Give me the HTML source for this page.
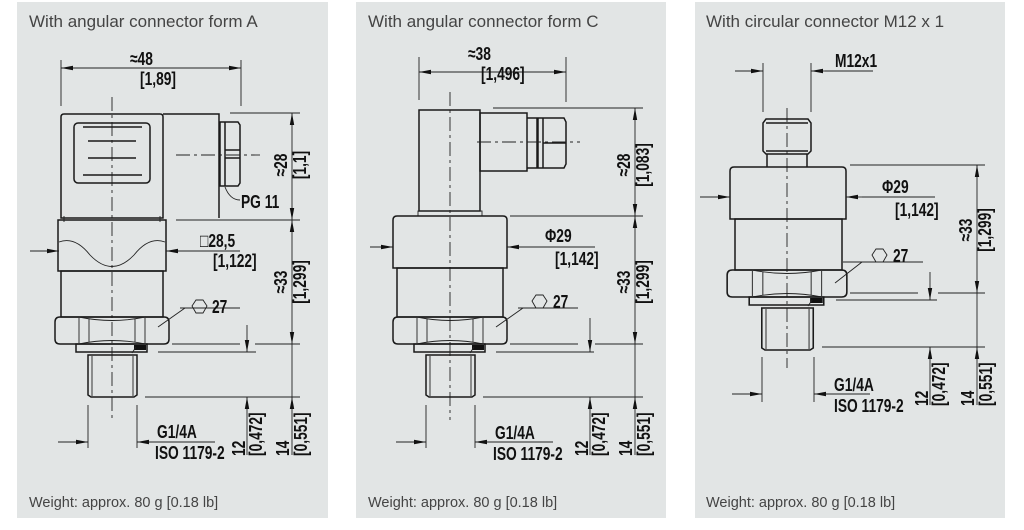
<!DOCTYPE html>
<html><head><meta charset="utf-8"><style>
body{margin:0;background:#fff;width:1024px;height:530px;overflow:hidden}
svg{display:block}
.t{font-family:"Liberation Sans",sans-serif;font-size:17px;fill:#444}
.w{font-family:"Liberation Sans",sans-serif;font-size:14.5px;fill:#444}
.d{font-family:"Liberation Sans",sans-serif;font-weight:bold;font-size:14.5px;fill:#111}
.l{stroke:#1a1a1a;stroke-width:1.5;fill:none}
.s{stroke:#222;stroke-width:0.9;fill:none}
.c{stroke:#222;stroke-width:0.9;fill:none;stroke-dasharray:14 4 3 4}
.a{stroke:#222;stroke-width:0.9;fill:none;marker-end:url(#ar)}
</style></head><body>
<svg width="1024" height="530" viewBox="0 0 1024 530">
<defs>
<marker id="ar" markerUnits="userSpaceOnUse" markerWidth="12" markerHeight="6" refX="12" refY="3" orient="auto"><path d="M0,0.8 L12,3 L0,5.2z" fill="#111"/></marker>
<g id="low">
<path class="l" d="M-52,0 L52,0 Q57,0 57,5 L57,22 Q57,27 52,27 L-52,27 Q-57,27 -57,22 L-57,5 Q-57,0 -52,0z"/>
<path class="s" d="M-33,0 Q0,7 33,0 M-33,27 Q0,20 33,27 M-33,1 V26 M-23,2 V25 M23,2 V25 M33,1 V26"/>
<rect class="l" x="-36" y="27" width="71" height="8"/>
<rect x="22" y="28" width="12" height="5" fill="#111"/>
<path class="s" d="M20,36 L24,30"/>
<path class="l" d="M-24,38 H25 V78 L22,80 H-21 L-24,78 Z"/>
<path class="s" d="M-20,39 V79 M21,39 V79"/>
</g>
</defs>
<rect x="17" y="2" width="311" height="516" fill="#e2e5e5"/>
<rect x="356" y="2" width="310" height="516" fill="#e2e5e5"/>
<rect x="695" y="2" width="310" height="516" fill="#e2e5e5"/>
<text class="t" x="29" y="27">With angular connector form A</text>
<text class="t" x="368" y="27">With angular connector form C</text>
<text class="t" x="706" y="27">With circular connector M12 x 1</text>
<text class="w" x="29" y="507">Weight: approx. 80 g [0.18 lb]</text>
<text class="w" x="368" y="507">Weight: approx. 80 g [0.18 lb]</text>
<text class="w" x="706" y="507">Weight: approx. 80 g [0.18 lb]</text>

<!-- PANEL 1 -->
<g>
<path class="s" d="M61,60 V106 M241,60 V106"/>
<path class="a" d="M150,68 H61"/><path class="a" d="M150,68 H241"/>
<text class="d" transform="translate(130,65) scale(.95,1.3)">≈48</text><text class="d" transform="translate(140,85) scale(.95,1.3)">[1,89]</text>
<path class="c" d="M112,97 V420"/>
<path class="l" d="M64,114 H160 Q163,114 163,117 V218 H61 V117 Q61,114 64,114z"/>
<rect class="l" x="74" y="123" width="76" height="60" rx="4"/>
<path class="l" d="M83,127 H142 M88,141 H136 M88,158 H136 M83,175 H142" stroke-width="2.4"/>
<path class="l" d="M163,114 H219 V218"/>
<path class="l" d="M220,122 H238 L240,125 V183 L238,186 H220 Z M225,122 V186 M225,150 H240 M225,158 H240"/>
<path class="c" d="M176,155 H260"/>
<path class="s" d="M225,187 Q230,200 240,200"/>
<text class="d" transform="translate(241,208) scale(.95,1.3)">PG 11</text>
<path class="s" d="M230,113 H300 M176,220 H300 M172,344 H240 M255,344 H300 M158,352 H256 M145,397 H300 M180,308 H240"/>
<path class="a" d="M292,165 V113"/><path class="a" d="M292,165 V220"/>
<path class="a" d="M292,280 V220"/><path class="a" d="M292,280 V344"/>
<text class="d" transform="translate(287,165) rotate(-90) scale(.95,1.3)" text-anchor="middle">≈28</text>
<text class="d" transform="translate(306,165) rotate(-90) scale(.95,1.3)" text-anchor="middle">[1,1]</text>
<text class="d" transform="translate(287,282) rotate(-90) scale(.95,1.3)" text-anchor="middle">≈33</text>
<text class="d" transform="translate(306,282) rotate(-90) scale(.95,1.3)" text-anchor="middle">[1,299]</text>
<rect class="l" x="58" y="220" width="108" height="51"/>
<path class="s" d="M59,242 Q75,236 90,255 Q112,278 134,255 Q149,236 165,242"/>
<rect class="l" x="61" y="271" width="102" height="46"/>
<path class="s" d="M64,216 V222 M160,216 V222"/>
<path class="a" d="M30,251 H59"/><path class="s" d="M200,251 H240"/><path class="a" d="M200,251 H166"/>
<text class="d" transform="translate(200,247) scale(.95,1.3)">□28,5</text><text class="d" transform="translate(213,267) scale(.95,1.3)">[1,122]</text>
<use href="#low" x="112" y="317"/>
<polygon class="s" points="192,306 196,300 203,300 207,306 203,313 196,313"/>
<text class="d" transform="translate(212,313) scale(.95,1.3)">27</text>
<path class="s" d="M158,327 L185,308"/>
<path class="s" d="M247,325 V335"/><path class="a" d="M247,335 V352"/>
<path class="a" d="M247,455 V397"/><path class="a" d="M292,455 V397"/><path class="s" d="M292,344 V397"/>
<text class="d" transform="translate(245,456) rotate(-90) scale(.95,1.3)">12</text>
<text class="d" transform="translate(262,456) rotate(-90) scale(.95,1.3)">[0,472]</text>
<text class="d" transform="translate(289,456) rotate(-90) scale(.95,1.3)">14</text>
<text class="d" transform="translate(307,456) rotate(-90) scale(.95,1.3)">[0,551]</text>
<path class="s" d="M88,405 V448 M137,405 V448"/>
<path class="a" d="M58,442 H88"/><path class="a" d="M155,442 H137"/><path class="s" d="M155,442 H215"/>
<text class="d" transform="translate(157,438) scale(.95,1.3)">G1/4A</text><text class="d" transform="translate(155,459) scale(.95,1.3)">ISO 1179-2</text>
</g>

<!-- PANEL 2 -->
<g>
<path class="s" d="M419,57 V100 M566,57 V102"/>
<path class="a" d="M480,72 H419"/><path class="a" d="M480,72 H566"/>
<text class="d" transform="translate(468,60) scale(.95,1.3)">≈38</text><text class="d" transform="translate(481,80) scale(.95,1.3)">[1,496]</text>
<path class="c" d="M450,92 V420"/>
<rect class="l" x="419" y="110" width="61" height="101"/>
<rect class="s" x="418" y="211" width="64" height="5"/>
<rect class="l" x="480" y="113" width="47" height="58"/>
<path class="l" d="M527,118 H537 V168 H527 M538,118 H564 L566,122 V164 L564,168 H538 Z M543,118 V168 M543,143 H566"/>
<path class="c" d="M477,142 H580"/>
<path class="l" d="M397,216 H503 Q507,216 507,220 V268 H393 V220 Q393,216 397,216z"/>
<rect class="l" x="397" y="268" width="106" height="49"/>
<path class="a" d="M370,247 H393"/><path class="a" d="M530,247 H507"/><path class="s" d="M530,247 H595"/>
<text class="d" transform="translate(545,242) scale(.95,1.3)">Φ29</text><text class="d" transform="translate(555,265) scale(.95,1.3)">[1,142]</text>
<path class="s" d="M493,108 H643 M510,216 H643 M510,344 H578 M595,344 H643 M496,352 H594 M483,397 H643 M518,308 H578"/>
<path class="a" d="M635,165 V108"/><path class="a" d="M635,165 V216"/>
<path class="a" d="M635,280 V216"/><path class="a" d="M635,280 V344"/>
<text class="d" transform="translate(630,165) rotate(-90) scale(.95,1.3)" text-anchor="middle">≈28</text>
<text class="d" transform="translate(649,165) rotate(-90) scale(.95,1.3)" text-anchor="middle">[1,083]</text>
<text class="d" transform="translate(630,282) rotate(-90) scale(.95,1.3)" text-anchor="middle">≈33</text>
<text class="d" transform="translate(649,282) rotate(-90) scale(.95,1.3)" text-anchor="middle">[1,299]</text>
<use href="#low" x="450" y="317"/>
<polygon class="s" points="532,301 536,295 543,295 547,301 543,308 536,308"/>
<text class="d" transform="translate(553,308) scale(.95,1.3)">27</text>
<path class="s" d="M496,327 L523,308"/>
<path class="s" d="M590,318 V335"/><path class="a" d="M590,335 V352"/>
<path class="a" d="M590,455 V397"/><path class="a" d="M635,455 V397"/><path class="s" d="M635,344 V397"/>
<text class="d" transform="translate(588,456) rotate(-90) scale(.95,1.3)">12</text>
<text class="d" transform="translate(605,456) rotate(-90) scale(.95,1.3)">[0,472]</text>
<text class="d" transform="translate(632,456) rotate(-90) scale(.95,1.3)">14</text>
<text class="d" transform="translate(650,456) rotate(-90) scale(.95,1.3)">[0,551]</text>
<path class="s" d="M426,405 V448 M475,405 V448"/>
<path class="a" d="M396,442 H426"/><path class="a" d="M493,442 H475"/><path class="s" d="M493,442 H553"/>
<text class="d" transform="translate(495,439) scale(.95,1.3)">G1/4A</text><text class="d" transform="translate(493,460) scale(.95,1.3)">ISO 1179-2</text>
</g>

<!-- PANEL 3 -->
<g>
<path class="s" d="M763,63 V112 M811,63 V112"/>
<path class="a" d="M735,71 H763"/><path class="a" d="M825,71 H811"/><path class="s" d="M825,71 H873"/>
<text class="d" transform="translate(835,67) scale(.95,1.3)">M12x1</text>
<path class="c" d="M787,108 V368"/>
<path class="l" d="M766,119 H808 L811,123 V151 L808,154 H766 L763,151 V123 Z M766,123 H808 M766,151 H808"/>
<path class="l" d="M767,154 V167 M807,154 V167"/>
<path class="l" d="M734,167 H842 Q846,167 846,171 V219 H730 V171 Q730,167 734,167z"/>
<rect class="l" x="735" y="219" width="107" height="51"/>
<path class="a" d="M700,197 H730"/><path class="a" d="M862,197 H846"/><path class="s" d="M862,197 H935"/>
<text class="d" transform="translate(882,193) scale(.95,1.3)">Φ29</text><text class="d" transform="translate(895,216) scale(.95,1.3)">[1,142]</text>
<path class="s" d="M850,165 H985 M850,293 H918 M938,293 H985 M836,300 H937 M822,347 H985 M843,262 H923"/>
<path class="a" d="M977,230 V165"/><path class="a" d="M977,230 V293"/>
<text class="d" transform="translate(972,230) rotate(-90) scale(.95,1.3)" text-anchor="middle">≈33</text>
<text class="d" transform="translate(991,230) rotate(-90) scale(.95,1.3)" text-anchor="middle">[1,299]</text>
<g transform="translate(787,270) scale(1.05,1)"><use href="#low"/></g>
<polygon class="s" points="872,255 876,249 883,249 887,255 883,262 876,262"/>
<text class="d" transform="translate(893,262) scale(.95,1.3)">27</text>
<path class="s" d="M835,283 L862,262"/>
<path class="s" d="M930,272 V285"/><path class="a" d="M930,285 V300"/>
<path class="a" d="M930,405 V347"/><path class="a" d="M977,405 V347"/><path class="s" d="M977,293 V347"/>
<text class="d" transform="translate(928,406) rotate(-90) scale(.95,1.3)">12</text>
<text class="d" transform="translate(945,406) rotate(-90) scale(.95,1.3)">[0,472]</text>
<text class="d" transform="translate(974,406) rotate(-90) scale(.95,1.3)">14</text>
<text class="d" transform="translate(992,406) rotate(-90) scale(.95,1.3)">[0,551]</text>
<path class="s" d="M762,357 V402 M814,357 V402"/>
<path class="a" d="M732,394 H762"/><path class="a" d="M832,394 H814"/><path class="s" d="M832,394 H870"/>
<text class="d" transform="translate(834,391) scale(.95,1.3)">G1/4A</text><text class="d" transform="translate(834,412) scale(.95,1.3)">ISO 1179-2</text>
</g>
</svg>
</body></html>
